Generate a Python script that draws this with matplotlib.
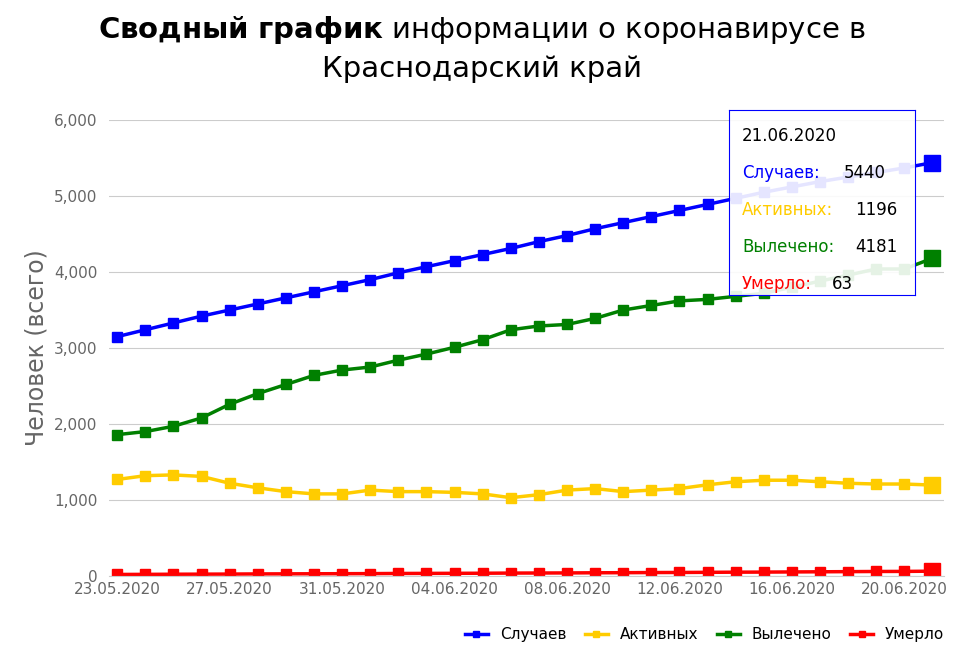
import matplotlib
matplotlib.use("Agg")
import matplotlib.pyplot as plt
import numpy as np
import datetime as dt

start = dt.date(2020, 5, 23)
dates = [start + dt.timedelta(days=i) for i in range(30)]
cases = [3150,3240,3330,3420,3500,3580,3660,3740,3820,3900,3990,4070,4150,4230,4310,4400,4480,4570,4650,4730,4810,4890,4970,5050,5120,5190,5250,5310,5370,5440]
recovered = [1860,1900,1970,2080,2260,2400,2520,2640,2710,2750,2840,2920,3010,3110,3240,3290,3310,3390,3500,3560,3620,3640,3680,3720,3800,3880,3960,4040,4040,4181]
active = [1270,1320,1330,1310,1220,1160,1110,1080,1080,1130,1110,1110,1100,1080,1030,1070,1130,1150,1110,1130,1150,1200,1240,1260,1260,1240,1220,1210,1210,1196]
deaths = [20,21,23,24,25,27,28,29,30,31,33,34,35,36,38,39,40,42,43,45,46,48,50,51,53,55,57,59,60,63]
tick_idx = list(range(0, 30, 4))
tick_labels = [dates[i].strftime("%d.%m.%Y") for i in tick_idx]

fig = plt.figure(figsize=(9.63, 6.56), dpi=100)
ax = fig.add_axes([0.113, 0.122, 0.867, 0.695])
x = np.arange(30)
series = [(cases, "#0000ff", "Случаев"), (active, "#ffcc00", "Активных"),
          (recovered, "#008000", "Вылечено"), (deaths, "#ff0000", "Умерло")]
for vals, c, lab in series:
    ax.plot(x, vals, color=c, lw=2.5, marker="s", ms=7, label=lab)
    ax.plot(x[-1], vals[-1], marker="s", ms=12, color=c)
ax.set_ylim(0, 6000)
ax.set_xlim(-0.3, 29.4)
ax.set_yticks(range(0, 6001, 1000))
ax.set_yticklabels([f"{v:,}" for v in range(0, 6001, 1000)])
ax.set_xticks(tick_idx)
ax.set_xticklabels(tick_labels)
ax.tick_params(colors="#666666", labelsize=11, length=0)
ax.tick_params(axis="x", pad=4)
ax.tick_params(axis="y", pad=8)
ax.grid(axis="y", color="#cccccc")
for s in ["top", "right", "left"]:
    ax.spines[s].set_visible(False)
ax.spines["bottom"].set_color("#cccccc")
ax.set_ylabel("Человек (всего)", fontsize=17, color="#666666")
fig.text(0.5, 0.955, r"$\bf{Сводный\ график}$ информации о коронавирусе в", ha="center", va="center", fontsize=21)
fig.text(0.5, 0.895, "Краснодарский край", ha="center", va="center", fontsize=21)
fig.legend(loc="lower right", bbox_to_anchor=(0.995, 0.0), ncol=4, frameon=False,
           fontsize=11, handlelength=1.5, columnspacing=1.2, markerscale=0.7)
# tooltip
tb = fig.add_axes([0.757, 0.55, 0.193, 0.283])
tb.set_xticks([]); tb.set_yticks([])
for s in tb.spines.values():
    s.set_color("#0000ff")
tb.patch.set_alpha(0.9)
tb.text(0.07, 0.86, dates[-1].strftime("%d.%m.%Y"), fontsize=12, transform=tb.transAxes, va="center")
rows = [("Случаев:", cases[-1], "#0000ff"), ("Активных:", active[-1], "#ffcc00"),
        ("Вылечено:", recovered[-1], "#008000"), ("Умерло:", deaths[-1], "#ff0000")]
for i, (lab, v, c) in enumerate(rows):
    yy = 0.66 - i * 0.2
    tb.text(0.07, yy, lab, fontsize=12, color=c, transform=tb.transAxes, va="center")
    tb.text(0.07 + len(lab) * 0.062 + 0.05, yy, str(v), fontsize=12, transform=tb.transAxes, va="center")
fig.savefig("out.png")
